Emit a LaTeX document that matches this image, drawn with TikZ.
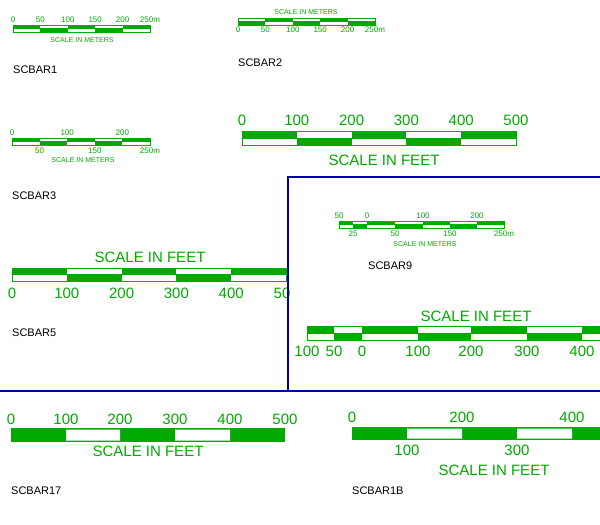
\documentclass[tikz,border=0pt]{standalone}
\usepackage{fontspec}
\setmainfont{Liberation Sans}
\definecolor{cg}{RGB}{0,170,0}
\definecolor{cb}{RGB}{0,0,170}
\tikzset{
 gt/.style={text=cg,inner sep=0pt,font=\fontsize{#1}{#1}\selectfont},
 bt/.style={text=black,inner sep=0pt,anchor=west,font=\fontsize{11}{11}\selectfont},
 ol/.style={draw=cg,line width=0.8pt},
}
% #1 y-top, #2 y-mid, #3 y-bottom, #4 top-green segments a/b, #5 bottom-green segments, #6 x0, #7 x1
\newcommand\chkbar[7]{%
 \foreach \a/\b in {#4} {\fill[cg] (\a,#1) rectangle (\b,#2);}
 \foreach \a/\b in {#5} {\fill[cg] (\a,#2) rectangle (\b,#3);}
 \draw[ol] (#6,#1) rectangle (#7,#3) (#6,#2) -- (#7,#2);}
\begin{document}
\begin{tikzpicture}[x=1pt,y=-1pt]
\useasboundingbox[fill=white] (0,0) rectangle (600,525);
% SCBAR1
\chkbar{25}{28.5}{32}{13/40.4,67.8/95.2,122.6/150}{40.4/67.8,95.2/122.6}{13}{150}
\foreach \v/\x in {0/13,50/40.4,100/67.8,150/95.2,200/122.6,250m/150} \node[gt=8] (a\x) at (\x,20) {\v};
\node[gt=7] (s1) at (82,40) {SCALE IN METERS};
\node[bt] (n1) at (13,70) {SCBAR1};
% SCBAR2
\chkbar{18}{21.5}{25}{265.4/292.8,320.2/347.6}{238/265.4,292.8/320.2,347.6/375}{238}{375}
\foreach \v/\x in {0/238,50/265.4,100/292.8,150/320.2,200/347.6,250m/375} \node[gt=8] (b\x) at (\x,30) {\v};
\node[gt=7] (s2) at (306,12) {SCALE IN METERS};
\node[bt] (n2) at (238,63) {SCBAR2};
% SCBAR3
\chkbar{138}{141.5}{145}{12/39.6,67.2/94.8,122.4/150}{39.6/67.2,94.8/122.4}{12}{150}
\foreach \v/\x in {0/12,100/67.2,200/122.4} \node[gt=8] (c\x) at (\x,133) {\v};
\foreach \v/\x in {50/39.6,150/94.8,250m/150} \node[gt=8] (d\x) at (\x,151) {\v};
\node[gt=7] (s3) at (83,160) {SCALE IN METERS};
\node[bt] (n3) at (12,196) {SCBAR3};
% SCBAR feet top right
\chkbar{131}{138}{145}{242/296.8,351.6/406.4,461.2/516}{296.8/351.6,406.4/461.2}{242}{516}
\foreach \v/\x in {0/242,100/296.8,200/351.6,300/406.4,400/461.2,500/516} \node[gt=15] (e\x) at (\x,120) {\v};
\node[gt=15] (s4) at (384,160) {SCALE IN FEET};
% SCBAR5
\chkbar{268}{274.5}{281}{12/66.8,121.6/176.4,231.2/286}{66.8/121.6,176.4/231.2}{12}{286}
\foreach \v/\x in {0/12,100/66.8,200/121.6,300/176.4,400/231.2,50/282} \node[gt=15] (f\x) at (\x,293) {\v};
\node[gt=15] (s5) at (150,257) {SCALE IN FEET};
\node[bt] (n5) at (12,333) {SCBAR5};
% SCBAR9 meters
\chkbar{221}{224.5}{228}{339/353,367/395,423/450,477/504}{353/367,395/423,450/477}{339}{504}
\foreach \v/\x in {50/339,0/367,100/423,200/477} \node[gt=8] (g\x) at (\x,216) {\v};
\foreach \v/\x in {25/353,50/395,150/450,250m/504} \node[gt=8] (h\x) at (\x,234) {\v};
\node[gt=7] (s9) at (425,244) {SCALE IN METERS};
\node[bt] (n9) at (368,266) {SCBAR9};
% big feet right
\chkbar{326}{333}{340}{307/334,362/418,471/527,582/600}{334/362,418/471,527/582}{307}{601}
\foreach \v/\x in {100/307,50/334,0/362,100/418,200/471,300/527,400/582} \node[gt=15] (i\x) at (\x,351) {\v};
\node[gt=15] (s6) at (476,316) {SCALE IN FEET};
% blue frame
\draw[cb,line width=2.5pt] (0,391) -- (600,391) (288,391) -- (288,177) -- (600,177);
% SCBAR17
\fill[cg] (11,428) rectangle (285,442);
\fill[white] (66,429.5) rectangle (120,440.5) (175,429.5) rectangle (230,440.5);
\foreach \v/\x in {0/11,100/66,200/120,300/175,400/230,500/285} \node[gt=15] (j\x) at (\x,419) {\v};
\node[gt=15] (s7) at (148,451) {SCALE IN FEET};
\node[bt] (n7) at (11,491) {SCBAR17};
% SCBAR1B
\fill[cg] (352,427) rectangle (601,440);
\fill[white] (407,428.5) rectangle (462,438.5) (517,428.5) rectangle (572,438.5);
\foreach \v/\x in {0/352,200/462,400/572} \node[gt=15] (k\x) at (\x,417) {\v};
\foreach \v/\x in {100/407,300/517} \node[gt=15] (l\x) at (\x,450) {\v};
\node[gt=15] (s8) at (494,470) {SCALE IN FEET};
\node[bt] (n8) at (352,491) {SCBAR1B};
\end{tikzpicture}
\end{document}
